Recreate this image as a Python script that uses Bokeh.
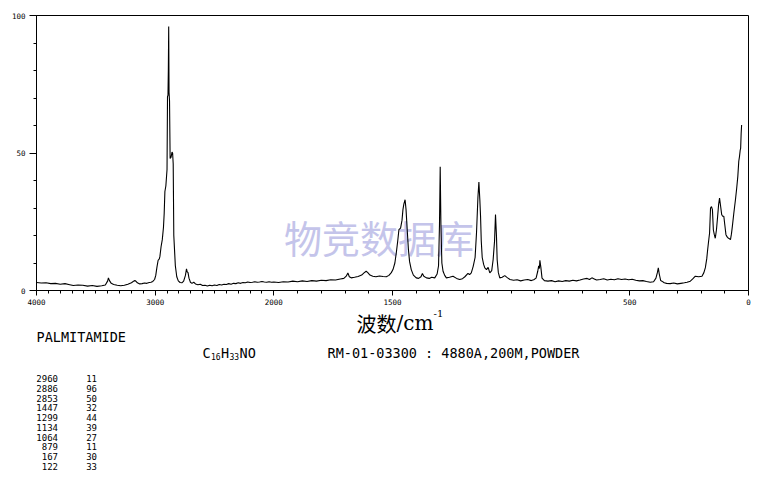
import numpy as np
from bokeh.plotting import figure
from bokeh.layouts import column
from bokeh.models import Range1d, FixedTicker
from bokeh.core.properties import value
from bokeh.embed import file_html
from bokeh.resources import INLINE

# ---------------- data ----------------
wavenumber = [
    4000, 3960, 3920, 3880, 3840, 3800, 3760, 3720, 3690, 3650, 3610, 3570, 3530, 3490, 3450,
    3420, 3400, 3394, 3385, 3370, 3350, 3320, 3290, 3260, 3230, 3200, 3175, 3165, 3150, 3130,
    3110, 3090, 3070, 3050, 3035, 3020, 3005, 2995, 2985, 2975, 2965, 2960, 2950, 2940, 2930,
    2924, 2918, 2910, 2905, 2900, 2896, 2892, 2889, 2886, 2883, 2879, 2874, 2866, 2858, 2853,
    2848, 2843, 2830, 2818, 2805, 2790, 2775, 2760, 2745, 2736, 2730, 2723, 2715, 2703, 2690,
    2675, 2660, 2640, 2620, 2600, 2580, 2560, 2540, 2520, 2500, 2480, 2460, 2440, 2420, 2400,
    2380, 2360, 2340, 2320, 2300, 2280, 2260, 2240, 2220, 2200, 2180, 2160, 2140, 2120, 2100,
    2080, 2060, 2040, 2020, 2000, 1980, 1960, 1940, 1920, 1900, 1880, 1860, 1840, 1820, 1800,
    1780, 1760, 1740, 1720, 1705, 1695, 1688, 1682, 1674, 1660, 1645, 1630, 1620, 1611, 1604,
    1595, 1583, 1570, 1555, 1540, 1526, 1515, 1505, 1498, 1490, 1484, 1478, 1473, 1466, 1460,
    1456, 1452, 1447, 1443, 1438, 1433, 1428, 1421, 1412, 1400, 1390, 1380, 1374, 1368, 1357,
    1345, 1335, 1322, 1312, 1306, 1302, 1299, 1296, 1292, 1287, 1280, 1273, 1260, 1245, 1230,
    1217, 1205, 1195, 1182, 1175, 1168, 1160, 1152, 1146, 1140, 1136, 1132, 1129, 1126, 1122,
    1116, 1111, 1104, 1097, 1090, 1082, 1076, 1070, 1066, 1062, 1059, 1054, 1048, 1038, 1027,
    1015, 1005, 990, 975, 960, 945, 930, 915, 905, 895, 888, 884, 881, 879, 875,
    870, 860, 845, 830, 815, 800, 785, 770, 755, 740, 725, 710, 695, 680, 670,
    660, 650, 640, 625, 610, 595, 580, 565, 550, 535, 520, 505, 490, 475, 460,
    445, 430, 414, 400, 390, 384, 380, 376, 370, 365, 355, 345, 330, 315, 300,
    285, 270, 259, 245, 235, 224, 210, 196, 188, 182, 176, 172, 168, 164, 160,
    156, 152, 148, 144, 140, 135, 130, 126, 122, 118, 113, 109, 104, 100, 95,
    90, 86, 80, 76, 72, 68, 62, 55, 50, 45, 41, 38, 35, 33, 31, 29,
]
intensity = [
    2.9, 2.7, 2.8, 2.5, 2.6, 2.3, 2.5, 2.1, 1.8, 2.0, 1.9, 1.6, 1.8, 1.5, 1.7,
    2.0, 3.5, 4.6, 3.6, 2.6, 2.2, 1.9, 1.7, 1.9, 2.3, 2.8, 3.6, 3.5, 2.8, 2.4,
    2.5, 2.7, 2.6, 2.9, 3.0, 3.3, 4.0, 5.5, 8.5, 11.0, 11.5, 12.4, 16.0, 18.5, 23.0,
    28.0, 36.0, 38.0, 41.0, 44.0, 70.5, 71.0, 80.0, 96.0, 72.0, 69.0, 48.0, 48.5, 50.3, 50.0,
    46.0, 20.0, 9.0, 5.0, 3.5, 2.9, 2.8, 3.4, 5.5, 7.9, 6.8, 6.5, 4.5, 3.0, 2.6,
    3.0, 2.4, 2.1, 2.3, 1.8, 1.9, 1.6, 1.9, 1.7, 2.0, 1.8, 2.2, 2.0, 2.3, 2.2,
    2.5, 2.3, 2.6, 2.5, 2.8, 2.6, 2.9, 2.8, 3.1, 2.9, 3.0, 3.2, 3.0, 3.1, 3.3,
    3.1, 3.0, 3.2, 3.0, 3.1, 2.9, 3.2, 3.1, 3.4, 3.2, 3.5, 3.3, 3.6, 3.4, 3.7,
    3.6, 3.9, 3.8, 4.2, 4.4, 5.2, 6.4, 5.0, 4.6, 4.8, 5.1, 5.6, 6.4, 7.0, 6.5,
    5.6, 5.2, 5.0, 5.3, 5.1, 5.0, 5.5, 6.5, 7.6, 10.0, 13.7, 18.0, 22.1, 22.7, 25.5,
    29.4, 31.5, 33.0, 29.5, 22.0, 15.0, 10.5, 7.6, 5.6, 4.6, 4.4, 5.0, 6.2, 5.2, 4.6,
    4.4, 4.8, 4.6, 6.0, 9.0, 24.0, 45.0, 24.0, 10.0, 7.0, 5.5, 4.6, 4.8, 5.2, 4.4,
    4.0, 4.3, 5.0, 6.2, 5.8, 6.4, 8.8, 12.0, 21.0, 34.0, 39.4, 33.0, 27.0, 18.0, 12.0,
    9.5, 8.2, 7.6, 8.4, 6.4, 7.2, 11.2, 18.0, 27.6, 20.0, 11.2, 6.5, 4.6, 4.8, 5.4,
    4.6, 4.0, 3.7, 3.9, 3.5, 3.8, 4.0, 3.6, 3.9, 4.5, 7.0, 9.0, 8.0, 11.0, 8.5,
    4.5, 3.6, 3.4, 3.6, 3.2, 3.5, 3.3, 3.6, 3.4, 3.7, 3.5, 3.8, 4.2, 4.4, 4.0,
    4.6, 4.2, 3.8, 4.0, 4.3, 3.8, 4.1, 3.9, 4.3, 4.0, 4.2, 3.9, 4.1, 3.7, 3.5,
    3.6, 3.3, 3.0, 3.2, 4.5, 6.5, 8.2, 6.0, 3.6, 3.4, 2.8, 2.6, 2.5, 2.7, 2.4,
    2.6, 2.8, 3.0, 3.4, 4.2, 5.2, 5.0, 5.2, 6.5, 8.2, 11.5, 14.9, 18.0, 20.9, 30.0,
    30.5, 29.4, 22.0, 20.3, 19.0, 22.1, 27.0, 31.2, 33.6, 31.0, 27.6, 27.0, 27.0, 24.0, 20.3,
    19.5, 19.1, 18.8, 18.5, 20.5, 23.3, 28.0, 33.0, 37.0, 41.5, 47.0, 48.7, 51.0, 51.8, 57.0, 60.2,
]

x_tick_labels = ["4000", "3000", "2000", "1500", "500", "0"]
y_tick_labels = ["0", "50", "100"]

compound = "PALMITAMIDE"
formula_parts = ["C", "16", "H", "33", "NO"]
record = "RM-01-03300 : 4880A,200M,POWDER"
peak_positions = ["2960", "2886", "2853", "1447", "1299", "1134", "1064", "879", "167", "122"]
peak_heights = ["11", "96", "50", "32", "44", "39", "27", "11", "30", "33"]
watermark = "物竞数据库"


# above 2000 cm-1 the axis is compressed by a factor of 2 (as in the original)
def axis_pos(w):
    w = np.asarray(w, dtype=float)
    return np.where(w > 2000, 2000 + (w - 2000) / 2.0, w)


u = axis_pos(wavenumber)
mono = "DejaVu Sans Mono"

W = 753
LEFT, RIGHT = 36, 5
TOP_H = 307
p = figure(width=W, height=TOP_H, output_backend="svg", toolbar_location=None,
           x_range=Range1d(float(axis_pos(4000)), 0), y_range=Range1d(0, 100),
           min_border_left=LEFT, min_border_right=RIGHT, min_border_top=15,
           min_border_bottom=TOP_H - 15 - 276)
p.background_fill_color = "white"
p.border_fill_color = "white"
p.outline_line_color = "black"
p.outline_line_width = 1
p.xgrid.visible = False
p.ygrid.visible = False

# x axis
xt_wn = [int(t) for t in x_tick_labels]
xt_pos = [float(v) for v in axis_pos(xt_wn)]
minor_wn = list(range(0, 4001, 100))
p.xaxis.ticker = FixedTicker(ticks=xt_pos, minor_ticks=[float(v) for v in axis_pos(minor_wn)])
p.xaxis.major_label_overrides = {pos: lab for pos, lab in zip(xt_pos, x_tick_labels)}
p.xaxis.major_tick_out = 5
p.xaxis.major_tick_in = 0
p.xaxis.minor_tick_out = 3
p.xaxis.minor_tick_in = 0
p.xaxis.major_label_standoff = 3
p.xaxis.major_label_text_font = mono
p.xaxis.major_label_text_font_size = "7.5px"
p.xaxis.major_label_text_color = "black"
p.xaxis.axis_line_color = "black"
p.xaxis.major_tick_line_color = "black"
p.xaxis.minor_tick_line_color = "black"

# y axis
p.yaxis.ticker = FixedTicker(ticks=[int(t) for t in y_tick_labels], minor_ticks=list(range(0, 101, 10)))
p.yaxis.major_tick_out = 7
p.yaxis.major_tick_in = 0
p.yaxis.minor_tick_out = 3
p.yaxis.minor_tick_in = 0
p.yaxis.major_label_standoff = 4
p.yaxis.major_label_text_font = mono
p.yaxis.major_label_text_font_size = "7.5px"
p.yaxis.major_label_text_color = "black"
p.yaxis.axis_line_color = "black"
p.yaxis.major_tick_line_color = "black"
p.yaxis.minor_tick_line_color = "black"

# watermark below the trace
p.text(x=[1557], y=[19.6], text=[watermark], text_align="center", text_baseline="middle",
       text_font=value("Noto Sans CJK SC"), text_font_size="38px", text_color="#c4c4ea")

p.line(u, intensity, line_color="black", line_width=1.1)

# ---------- lower panel: texts below the chart (coordinates = page pixels) ----------
BOT_H = 477 - TOP_H
q = figure(width=W, height=BOT_H, output_backend="svg", toolbar_location=None,
           x_range=Range1d(LEFT, W - RIGHT), y_range=Range1d(TOP_H + BOT_H, TOP_H),
           min_border_left=LEFT, min_border_right=RIGHT, min_border_top=0, min_border_bottom=0)
q.axis.visible = False
q.grid.visible = False
q.outline_line_color = None
q.background_fill_color = "white"
q.border_fill_color = "white"


def txt(texts, xs, ys, size, font=mono, align="left"):
    q.text(x=xs, y=ys, text=texts, text_font=value(font), text_font_size=size,
           text_align=align, text_baseline="middle", text_color="black")


# axis title
txt(["波数"], [356], [322.5], "20px", font="Noto Sans CJK SC")
txt(["/cm"], [396], [322.5], "20px", font="DejaVu Serif")
txt(["-1"], [433], [313], "10px", font="DejaVu Serif")

# compound info
txt([compound], [36], [336.5], "13.5px")
fx = [202, 210.5, 220.5, 229, 239]
is_sub = [False, True, False, True, False]
for part, x0, sub in zip(formula_parts, fx, is_sub):
    txt([part], [x0], [356 if sub else 352], "8px" if sub else "13.5px")
txt([record], [327], [352], "13.5px")

# peak table
rows_y = [378 + 9.75 * i for i in range(len(peak_positions))]
txt(peak_positions, [57.5] * len(rows_y), rows_y, "9px", align="right")
txt(peak_heights, [96.5] * len(rows_y), rows_y, "9px", align="right")

layout = column(p, q, spacing=0)
open("out.html", "w").write(file_html(layout, INLINE))
